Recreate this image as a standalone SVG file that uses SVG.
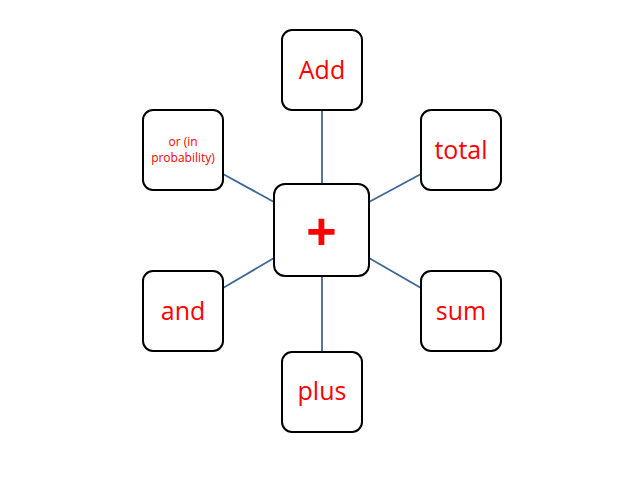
<svg xmlns="http://www.w3.org/2000/svg" width="638" height="478" viewBox="0 0 638 478">
<style>
.b{fill:#fff;stroke:#000;stroke-width:2}
.t{fill:#f00;font-family:"Open Sans","Liberation Sans",sans-serif;font-size:25px;text-anchor:middle}
.s{font-size:12px}
.c line{stroke:#3e6897;stroke-width:1.8}
</style>
<rect width="638" height="478" fill="#fff"/>
<g class="c">
<line x1="322" y1="110" x2="322" y2="184"/>
<line x1="322" y1="276" x2="322" y2="352"/>
<line x1="421" y1="174" x2="369" y2="202"/>
<line x1="223" y1="174" x2="274" y2="202"/>
<line x1="223" y1="288" x2="274" y2="258"/>
<line x1="421" y1="288" x2="369" y2="258"/>
</g>
<g id="center"><rect class="b" x="274" y="184" width="95" height="92" rx="11"/><text class="t" x="321.5" y="251" style="font-size:54px;font-weight:bold">+</text></g>
<g id="add"><rect class="b" x="282" y="30" width="80" height="80" rx="10"/><text class="t" x="322" y="79">Add</text></g>
<g id="total"><rect class="b" x="421" y="110" width="80" height="80" rx="10"/><text class="t" x="461" y="159">total</text></g>
<g id="or"><rect class="b" x="143" y="110" width="80" height="80" rx="10"/><text class="t s" x="183" y="146">or (in</text><text class="t s" x="183" y="162">probability)</text></g>
<g id="and"><rect class="b" x="143" y="271" width="80" height="80" rx="10"/><text class="t" x="183" y="320">and</text></g>
<g id="sum"><rect class="b" x="421" y="271" width="80" height="80" rx="10"/><text class="t" x="461" y="320">sum</text></g>
<g id="plus"><rect class="b" x="282" y="352" width="80" height="80" rx="10"/><text class="t" x="322" y="400">plus</text></g>
</svg>
